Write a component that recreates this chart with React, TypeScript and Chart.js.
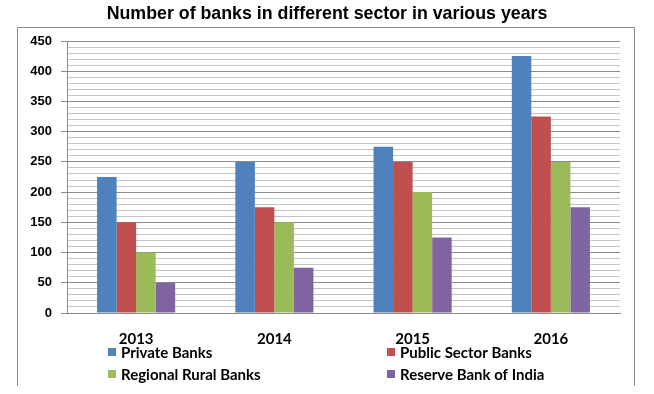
import React, { useEffect, useRef } from "react";
import { Chart, registerables } from "chart.js";

Chart.register(...registerables);

const TITLE = "Number of banks in different sector in various years";
const YEARS = ["2013", "2014", "2015", "2016"];
const SERIES_NAMES = ["Private Banks", "Public Sector Banks", "Regional Rural Banks", "Reserve Bank of India"];
const PRIVATE_BANKS = [225, 250, 275, 425];
const PUBLIC_SECTOR_BANKS = [150, 175, 250, 325];
const REGIONAL_RURAL_BANKS = [100, 150, 200, 250];
const RESERVE_BANK = [50, 75, 125, 175];
const COLORS = ["#4F81BD", "#C0504D", "#9BBB59", "#8064A2"];
const Y_MIN = 0;
const Y_MAX = 450;
const Y_MAJOR = 50;
const Y_MINOR = 10;

const frameTitleLegend = {
  id: "frameTitleLegend",
  afterDraw(chart: any) {
    const ctx = chart.ctx;
    const area = chart.chartArea;
    ctx.save();
    // title centred on the whole canvas
    ctx.font = "bold 17.8px 'Liberation Sans', Arial, sans-serif";
    ctx.fillStyle = "#000";
    ctx.textAlign = "center";
    ctx.textBaseline = "middle";
    ctx.fillText(TITLE, chart.width / 2, 14);

    // outer frame (left, top, right)
    ctx.strokeStyle = "#8c8c8c";
    ctx.lineWidth = 1;
    ctx.beginPath();
    ctx.moveTo(17.5, 386);
    ctx.lineTo(17.5, 27.5);
    ctx.lineTo(634.5, 27.5);
    ctx.lineTo(634.5, 386);
    ctx.stroke();

    // legend in two columns
    const cols = [area.left + 41, area.left + 320];
    const rows = [area.bottom + 39, area.bottom + 61];
    ctx.font = "bold 15px Lato, 'Liberation Sans', sans-serif";
    ctx.textBaseline = "middle";
    ctx.textAlign = "left";
    chart.data.datasets.forEach((ds: any, i: number) => {
      const x = cols[i % 2];
      const y = rows[Math.floor(i / 2)];
      ctx.fillStyle = ds.backgroundColor;
      ctx.fillRect(x, y - 4, 8, 8);
      ctx.fillStyle = "#000";
      ctx.fillText(ds.label, x + 13, y + 1);
    });
    ctx.restore();
  },
};

function App() {
  const ref = useRef<HTMLCanvasElement | null>(null);
  useEffect(() => {
    if (!ref.current) return;
    const seriesValues = [PRIVATE_BANKS, PUBLIC_SECTOR_BANKS, REGIONAL_RURAL_BANKS, RESERVE_BANK];
    const chart = new Chart(ref.current, {
      type: "bar",
      data: {
        labels: YEARS,
        datasets: SERIES_NAMES.map((name, i) => ({
          label: name,
          data: seriesValues[i],
          backgroundColor: COLORS[i],
          borderWidth: 0,
          categoryPercentage: 0.565,
          barPercentage: 1.0,
        })),
      },
      options: {
        animation: false,
        responsive: false,
        maintainAspectRatio: false,
        layout: { padding: { left: 0, right: 34, top: 41, bottom: 0 } },
        plugins: {
          legend: { display: false },
          tooltip: { enabled: false },
          title: { display: false },
        },
        scales: {
          x: {
            grid: { display: false, drawTicks: false },
            border: { display: true, color: "#8c8c8c" },
            ticks: {
              color: "#000",
              padding: 17,
              font: { family: "Lato, 'Liberation Sans', sans-serif", size: 15, weight: "bold" },
            },
            afterFit(scale: any) {
              scale.height = 81;
            },
          },
          y: {
            min: Y_MIN,
            max: Y_MAX,
            border: { display: true, color: "#8c8c8c" },
            grid: {
              color: (c: any) => (c.tick && c.tick.value % Y_MAJOR === 0 ? "#8c8c8c" : "#c4c4c4"),
              tickColor: (c: any) => (c.tick && c.tick.value % Y_MAJOR === 0 ? "#8c8c8c" : "rgba(0,0,0,0)"),
              tickLength: 6,
            },
            ticks: {
              stepSize: Y_MINOR,
              autoSkip: false,
              padding: 9,
              color: "#000",
              font: { family: "'Liberation Sans', Arial, sans-serif", size: 13, weight: "bold" },
              callback: (v: any) => (Number(v) % Y_MAJOR === 0 ? String(v) : ""),
            },
            afterFit(scale: any) {
              scale.width = 67;
            },
          },
        },
      },
      plugins: [frameTitleLegend],
    });
    return () => chart.destroy();
  }, []);
  return (
    <div style={{ position: "fixed", left: 0, top: 0, width: 654, height: 394, background: "#fff" }}>
      <canvas ref={ref} width={654} height={394} style={{ display: "block" }} />
    </div>
  );
}

export default App;
